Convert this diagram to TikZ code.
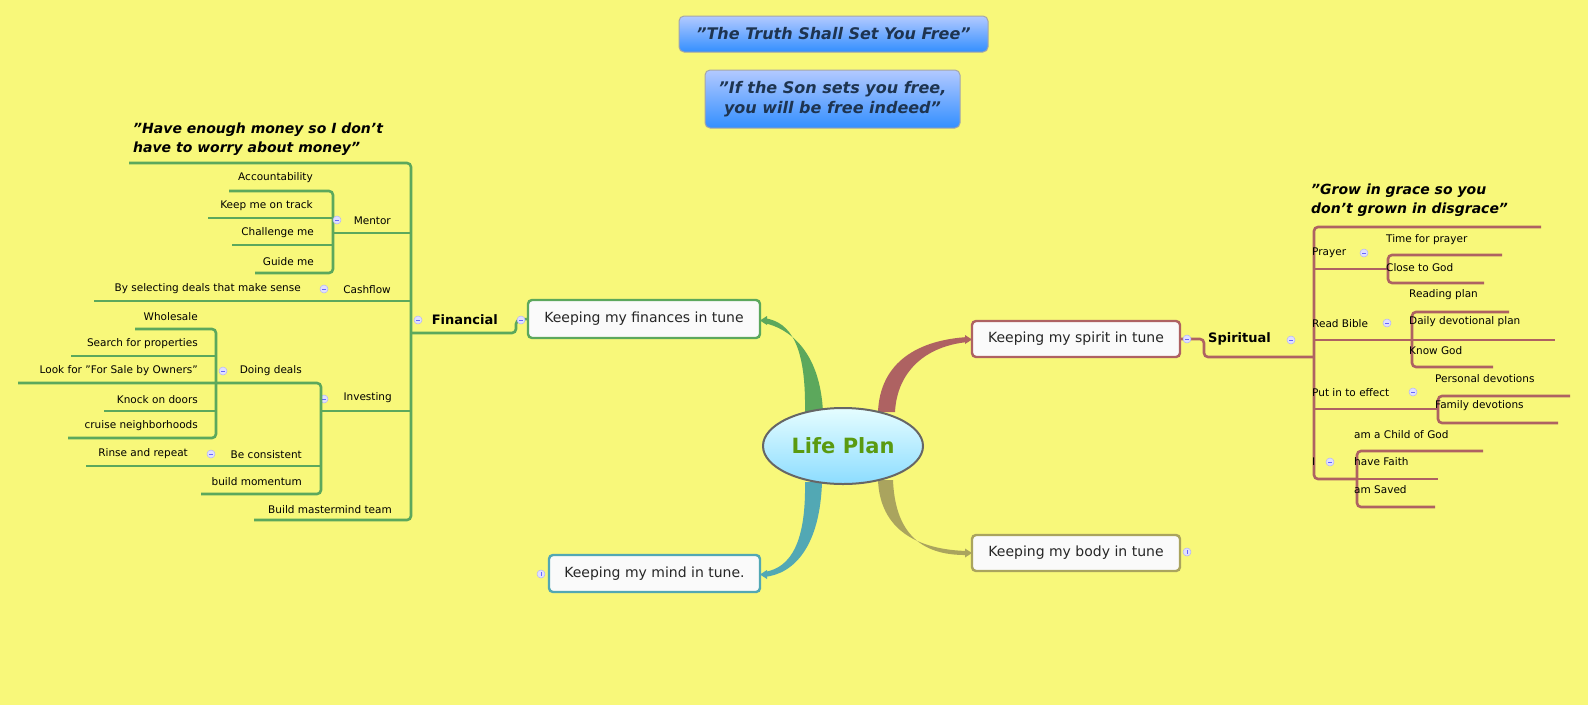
\documentclass[tikz,border=0pt]{standalone}
\usepackage{fontspec}
\setmainfont{DejaVu Sans}
\usetikzlibrary{shapes.geometric}
\definecolor{bg}{HTML}{F8F87A}
\definecolor{fin}{HTML}{5CA85C}
\definecolor{spi}{HTML}{AE6262}
\definecolor{bod}{HTML}{AAA45E}
\definecolor{mnd}{HTML}{52A8B4}
\definecolor{lp}{HTML}{5A9A10}
\definecolor{qt}{HTML}{1E3450}
\newcommand{\cmark}[2]{\node[cbox,#2] at (#1) {};}
\begin{document}
\begin{tikzpicture}[x=1pt,y=-1pt,
  leaf/.style={inner sep=0pt,font=\fontsize{10.5}{12}\selectfont},
  quote/.style={inner sep=0pt,align=left,font=\fontsize{14}{19}\selectfont\bfseries\itshape},
  bold/.style={inner sep=0pt,font=\fontsize{13}{15}\selectfont\bfseries},
  gl/.style={draw=fin,line width=2.6pt,rounded corners=4pt},
  bl/.style={draw=spi,line width=2.6pt,rounded corners=4pt},
  mainbox/.style={draw=#1,line width=2.4pt,rounded corners=4pt,fill=white!96!gray,inner sep=0pt,font=\fontsize{14}{16}\selectfont,text=black!85},
  topbox/.style={draw=gray!70,line width=1pt,rounded corners=5pt,top color=cyan!30!blue!30,bottom color=blue!55!cyan!80,inner sep=0pt,align=center,text=qt,font=\fontsize{16}{20}\selectfont\bfseries\itshape},
  cbox/.style={circle,inner sep=0pt,minimum size=8pt,fill=blue!12,draw=blue!30,line width=0.5pt,
    path picture={\draw[blue!60,line width=0.7pt] ([xshift=2pt]path picture bounding box.west) -- ([xshift=-2pt]path picture bounding box.east);}},
  pbox/.style={path picture={\draw[blue!60,line width=0.7pt] ([yshift=-2pt]path picture bounding box.north) -- ([yshift=2pt]path picture bounding box.south);}}
]
\fill[bg] (0,0) rectangle (1588,705);
\useasboundingbox (0,0) rectangle (1588,705);

% top boxes
\node[topbox,minimum width=309pt,minimum height=36pt] (t1) at (833.5,34) {"The Truth Shall Set You Free"};
\node[topbox,minimum width=255pt,minimum height=58pt] (t2) at (832.5,99) {"If the Son sets you free,\\ you will be free indeed"};

% tapered branches
\fill[fin] (805,412) .. controls (806,348) and (792,322) .. (764,318) -- (764,323) .. controls (788,328) and (820,350) .. (823,412) -- cycle;
\fill[spi] (878,412) .. controls (880,362) and (918,340) .. (968,337) -- (968,342) .. controls (925,346) and (897,372) .. (895,412) -- cycle;
\fill[bod] (878,480) .. controls (880,530) and (918,550) .. (968,551) -- (968,555) .. controls (918,556) and (895,530) .. (893,480) -- cycle;
\fill[mnd] (805,482) .. controls (806,540) and (792,568) .. (764,572) -- (764,577) .. controls (795,574) and (820,545) .. (822,482) -- cycle;
\fill[fin] (760,320.5) -- (767,316) -- (767,325) -- cycle;
\fill[spi] (972,339.5) -- (965,335) -- (965,344) -- cycle;
\fill[bod] (972,553) -- (965,548.5) -- (965,557.5) -- cycle;
\fill[mnd] (760,574.5) -- (767,570) -- (767,579) -- cycle;

% central
\node[ellipse,draw=gray!80!black,line width=2pt,top color=blue!8!cyan!10,bottom color=blue!30!cyan!45,minimum width=160pt,minimum height=76pt,text=lp,font=\fontsize{21}{24}\selectfont\bfseries] (lp) at (843,446) {Life Plan};

% main boxes
\node[mainbox=fin,minimum width=232pt,minimum height=38pt] (fn) at (644,319) {Keeping my finances in tune};
\node[mainbox=spi,minimum width=208pt,minimum height=36pt] (sp) at (1076,339) {Keeping my spirit in tune};
\node[mainbox=bod,minimum width=208pt,minimum height=36pt] (bd) at (1076,553) {Keeping my body in tune};
\node[mainbox=mnd,minimum width=211pt,minimum height=37pt] (mn) at (654.5,573.5) {Keeping my mind in tune.};
\node[cbox,pbox] (pb) at (1187,552) {};
\node[cbox,pbox] (pm) at (541,574) {};

% ===== Financial =====
\draw[gl] (fn.west) -- (516,320) -- (516,333) -- (411,333);
\cmark{521,320}{}
\node[bold,anchor=east] (fin) at (498,320) {Financial};
\cmark{418,320}{}
\draw[gl] (129,163) -- (411,163) -- (411,520) -- (254,520);
\node[quote,anchor=west] (q1) at (133,139) {"Have enough money so I don't\\have to worry about money"};
% mentor
\draw[gl] (333,233) -- (411,233);
\draw[gl] (229,191) -- (333,191) -- (333,273) -- (255,273);
\draw[gl] (208,218) -- (333,218);
\draw[gl] (232,245) -- (333,245);
\node[leaf,anchor=east] (acc) at (313,178) {Accountability};
\node[leaf,anchor=east] (kmt) at (313,206) {Keep me on track};
\node[leaf,anchor=east] (chm) at (314,233) {Challenge me};
\node[leaf,anchor=east] (gdm) at (314,262) {Guide me};
\node[leaf,anchor=east] (men) at (391,221) {Mentor};
\cmark{337,220}{}
% cashflow
\draw[gl] (94,301) -- (411,301);
\node[leaf,anchor=east] (bys) at (301,289) {By selecting deals that make sense};
\node[leaf,anchor=east] (csh) at (391,290) {Cashflow};
\cmark{324,289}{}
% investing
\draw[gl] (321,411) -- (411,411);
\node[leaf,anchor=east] (inv) at (392,398) {Investing};
\cmark{324,399}{}
\draw[gl] (18,383) -- (321,383) -- (321,494) -- (201,494);
\draw[gl] (135,329) -- (216,329) -- (216,438) -- (68,438);
\draw[gl] (71,356) -- (216,356);
\draw[gl] (104,411) -- (216,411);
\draw[gl] (86,466) -- (321,466);
\node[leaf,anchor=east] (whs) at (198,317) {Wholesale};
\node[leaf,anchor=east] (sfp) at (198,344) {Search for properties};
\node[leaf,anchor=east] (lfs) at (198,371) {Look for "For Sale by Owners"};
\node[leaf,anchor=east] (kod) at (198,400) {Knock on doors};
\node[leaf,anchor=east] (crn) at (198,426) {cruise neighborhoods};
\node[leaf,anchor=east] (ddl) at (302,371) {Doing deals};
\cmark{223,371}{}
\node[leaf,anchor=east] (rnr) at (188,454) {Rinse and repeat};
\node[leaf,anchor=east] (bcs) at (302,455) {Be consistent};
\cmark{211,454}{}
\node[leaf,anchor=east] (bmo) at (302,482) {build momentum};
\node[leaf,anchor=east] (bmt) at (392,510) {Build mastermind team};

% ===== Spiritual =====
\draw[bl] (sp.east) -- (1204,339) -- (1204,357) -- (1314,357);
\cmark{1187,339}{}
\node[bold,anchor=west] (spt) at (1208,339) {Spiritual};
\cmark{1291,340}{}
\draw[bl] (1541,227) -- (1314,227) -- (1314,479) -- (1357,479);
\node[quote,anchor=west] (q2) at (1311,200) {"Grow in grace so you\\don't grown in disgrace"};
% prayer
\draw[bl] (1314,269) -- (1388,269);
\draw[bl] (1502,255) -- (1388,255) -- (1388,283) -- (1484,283);
\node[leaf,anchor=west] (pry) at (1312,253) {Prayer};
\cmark{1364,253}{}
\node[leaf,anchor=west] (tfp) at (1386,240) {Time for prayer};
\node[leaf,anchor=west] (ctg) at (1386,268) {Close to God};
% read bible
\draw[bl] (1314,340) -- (1412,340);
\draw[bl] (1509,312) -- (1412,312) -- (1412,367) -- (1493,367);
\draw[bl] (1412,340) -- (1555,340);
\node[leaf,anchor=west] (rbb) at (1312,324) {Read Bible};
\cmark{1387,323}{}
\node[leaf,anchor=west] (rpl) at (1409,295) {Reading plan};
\node[leaf,anchor=west] (ddp) at (1409,322) {Daily devotional plan};
\node[leaf,anchor=west] (kgd) at (1409,351) {Know God};
% put in to effect
\draw[bl] (1314,409) -- (1438,409);
\draw[bl] (1570,396) -- (1438,396) -- (1438,423) -- (1558,423);
\node[leaf,anchor=west] (pie) at (1312,393) {Put in to effect};
\cmark{1413,392}{}
\node[leaf,anchor=west] (pdv) at (1435,379) {Personal devotions};
\node[leaf,anchor=west] (fdv) at (1435,406) {Family devotions};
% I
\draw[bl] (1483,451) -- (1357,451) -- (1357,507) -- (1435,507);
\draw[bl] (1357,479) -- (1438,479);
\node[leaf,anchor=west] (ii) at (1312,462) {I};
\cmark{1330,462}{}
\node[leaf,anchor=west] (acg) at (1354,435) {am a Child of God};
\node[leaf,anchor=west] (hvf) at (1354,462) {have Faith};
\node[leaf,anchor=west] (ams) at (1354,490) {am Saved};
\end{tikzpicture}
\end{document}
